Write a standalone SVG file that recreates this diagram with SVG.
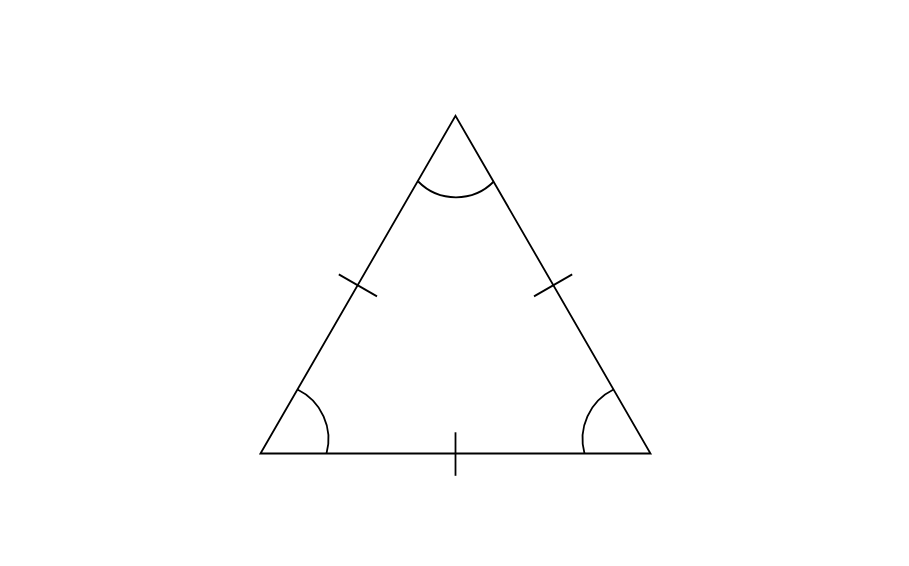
<svg xmlns="http://www.w3.org/2000/svg" width="909" height="566" viewBox="0 0 909 566">
<style>
.s{fill:none;stroke:#000;stroke-width:1.8;stroke-linecap:butt;stroke-linejoin:miter}
</style>
<rect width="909" height="566" fill="#fff"/>
<g id="triangle">
<path class="s" d="M260.5,453.5 L455.5,115.75 L650.5,453.5 Z"/>
</g>
<g id="angles">
<path class="s" d="M418.2,181.5 A53,53 0 0 0 493.8,181.5"/>
<path class="s" d="M297.5,389.5 A55,55 0 0 1 326.5,453.5"/>
<path class="s" d="M613.5,389.5 A55,55 0 0 0 584.5,453.5"/>
</g>
<g id="ticks">
<path class="s" d="M338.8,274.4 L377,296.4"/>
<path class="s" d="M572.2,274.4 L534,296.4"/>
<path class="s" d="M455.5,432.3 L455.5,475.8"/>
</g>
</svg>
